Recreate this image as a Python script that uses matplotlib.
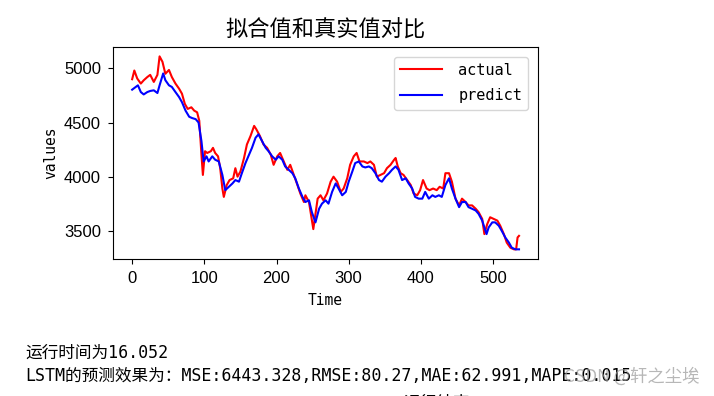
import matplotlib
matplotlib.use("Agg")
import matplotlib.pyplot as plt

# 真实值 (红) 和 预测值 (蓝), 采样点
actual_t = [0, 3, 7, 12, 16, 21, 25, 30, 35, 38,
            42, 46, 51, 55, 60, 65, 69, 73, 77, 82,
            86, 90, 93, 96, 98, 101, 104, 109, 112, 115,
            119, 122, 125, 127, 131, 135, 140, 143, 146, 150,
            155, 159, 164, 169, 172, 177, 182, 187, 192, 196,
            201, 205, 210, 215, 219, 224, 229, 233, 238, 240,
            245, 248, 251, 254, 257, 261, 265, 270, 275, 279,
            284, 289, 293, 298, 302, 307, 311, 315, 321, 326,
            330, 335, 339, 344, 349, 353, 358, 363, 365, 368,
            372, 376, 381, 386, 390, 395, 399, 403, 408, 412,
            417, 422, 426, 431, 434, 439, 443, 448, 453, 457,
            462, 466, 471, 476, 480, 485, 488, 492, 496, 501,
            506, 510, 515, 519, 524, 529, 532, 534, 536]
actual_v = [4900, 4980, 4907, 4860, 4890, 4920, 4940, 4875, 4940, 5110,
            5060, 4950, 4985, 4920, 4860, 4813, 4767, 4673, 4627, 4642,
            4611, 4596, 4518, 4207, 4020, 4238, 4222, 4238, 4269, 4222,
            4191, 4082, 3895, 3818, 3927, 3973, 3989, 4082, 4004, 4051,
            4176, 4300, 4378, 4471, 4440, 4378, 4300, 4269, 4207, 4113,
            4191, 4222, 4144, 4067, 4113, 4020, 3927, 3849, 3771, 3833,
            3771, 3647, 3522, 3662, 3802, 3833, 3787, 3849, 3958, 4004,
            3958, 3864, 3895, 3989, 4113, 4191, 4222, 4144, 4144, 4129,
            4144, 4113, 4004, 4020, 4036, 4082, 4113, 4160, 4176, 4098,
            4036, 4020, 3973, 3927, 3849, 3833, 3880, 3973, 3895, 3880,
            3895, 3880, 3911, 3895, 4036, 4036, 3958, 3802, 3740, 3802,
            3771, 3740, 3740, 3709, 3678, 3616, 3476, 3569, 3631, 3616,
            3600, 3553, 3476, 3398, 3351, 3336, 3336, 3445, 3460]

predict_t = [0, 5, 8, 12, 16, 21, 25, 30, 35, 38,
             43, 46, 51, 55, 60, 65, 69, 74, 79, 83,
             88, 92, 96, 99, 103, 106, 111, 115, 120, 125,
             129, 134, 139, 143, 148, 152, 157, 162, 166, 171,
             175, 180, 185, 189, 194, 199, 203, 208, 212, 217,
             222, 226, 231, 236, 240, 245, 249, 254, 259, 263,
             268, 272, 277, 282, 286, 291, 296, 300, 305, 309,
             314, 319, 323, 328, 332, 337, 342, 346, 351, 356,
             360, 365, 369, 374, 379, 383, 388, 392, 397, 402,
             406, 411, 416, 420, 425, 429, 434, 439, 443, 448,
             453, 457, 462, 466, 471, 476, 480, 485, 491, 494,
             499, 503, 508, 512, 517, 522, 526, 531, 536]
predict_v = [4804, 4829, 4844, 4782, 4760, 4782, 4792, 4798, 4773, 4844,
             4953, 4891, 4844, 4829, 4782, 4736, 4689, 4611, 4555, 4543,
             4533, 4502, 4331, 4144, 4191, 4144, 4191, 4160, 4144, 4020,
             3880, 3911, 3942, 3973, 3958, 4036, 4129, 4207, 4269, 4362,
             4393, 4331, 4269, 4238, 4191, 4160, 4191, 4160, 4098, 4067,
             4036, 3989, 3895, 3818, 3771, 3787, 3678, 3584, 3709, 3756,
             3787, 3756, 3864, 3942, 3895, 3833, 3864, 3958, 4051, 4129,
             4144, 4098, 4089, 4098, 4082, 4036, 3973, 3958, 4004, 4036,
             4067, 4098, 4067, 3973, 3989, 3942, 3895, 3818, 3802, 3802,
             3864, 3802, 3833, 3818, 3833, 3818, 3927, 3989, 3895, 3802,
             3724, 3771, 3771, 3724, 3709, 3693, 3662, 3600, 3476, 3538,
             3584, 3584, 3553, 3507, 3445, 3398, 3351, 3336, 3336]

run_time = "16.052"
metrics = "MSE:6443.328,RMSE:80.27,MAE:62.991,MAPE:0.015"

mono_cjk = ["DejaVu Sans Mono", "Noto Sans CJK SC"]

fig = plt.figure(figsize=(7.14, 3.96), dpi=100)
ax = fig.add_axes([0.158, 0.346, 0.596, 0.536])

ax.plot(actual_t, actual_v, color="r", lw=1.5, label="actual")
ax.plot(predict_t, predict_v, color="b", lw=1.5, label="predict")

ax.set_xticks([0, 100, 200, 300, 400, 500])
ax.set_yticks([3500, 4000, 4500, 5000])
for lab in ax.get_xticklabels() + ax.get_yticklabels():
    lab.set_fontfamily("Liberation Sans")
    lab.set_fontsize(12)
ax.tick_params(pad=5)

ax.set_title("拟合值和真实值对比", family="Noto Sans CJK SC", fontsize=16, pad=7)
ax.set_xlabel("Time", family="DejaVu Sans Mono", fontsize=10.5, labelpad=5)
ax.set_ylabel("values", family="DejaVu Sans Mono", fontsize=10.5, labelpad=4)
ax.legend(loc="upper right", prop={"family": "DejaVu Sans Mono", "size": 11},
          handlelength=2.7, handletextpad=1.1, labelspacing=0.7, borderaxespad=0.65)

# 控制台输出
fig.text(0.035, 0.109, "运行时间为" + run_time, family=mono_cjk, fontsize=12, va="center")
fig.text(0.035, 0.05, "LSTM的预测效果为：" + metrics, family=mono_cjk, fontsize=12, va="center")
fig.text(0.565, 0.006, "运行结束", family=mono_cjk, fontsize=12, va="top")
fig.text(0.79, 0.05, "CSDN @轩之尘埃", family="Noto Sans CJK SC", fontsize=12.5,
         va="center", color="#999999", alpha=0.7)

fig.savefig("out.png", dpi=100)
